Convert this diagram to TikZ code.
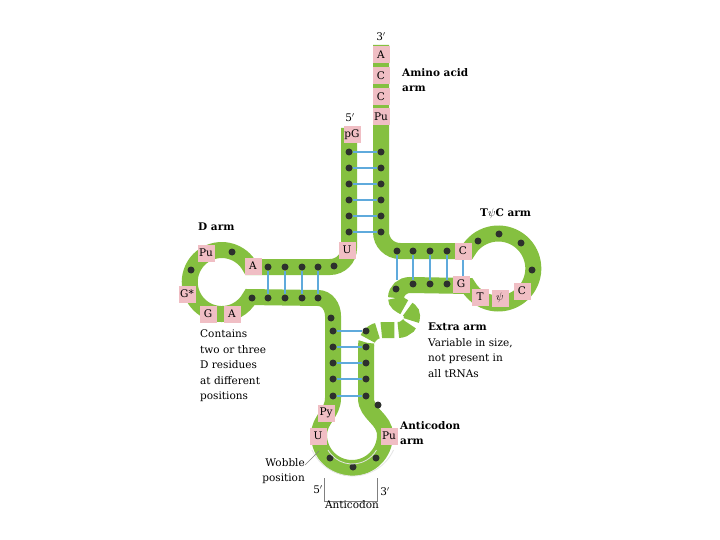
\documentclass[tikz,border=0pt]{standalone}
\usepackage{fontspec}
\setmainfont{DejaVu Serif}
\begin{document}
\begin{tikzpicture}[x=1pt,y=-1pt,
  every node/.style={font=\fontsize{10.5}{15}\selectfont},
  backbone/.style={draw=armgreen,line width=16pt},
  dot/.style={circle,fill=dotgray,inner sep=0pt,minimum size=7pt},
  base/.style={fill=basepink,inner sep=0pt,minimum width=17pt,minimum height=17pt,font=\fontsize{10.5}{13}\selectfont},
  rung/.style={draw=rungblue,line width=1.6pt},
  lbl/.style={align=left,anchor=north west,inner sep=0pt,font=\fontsize{10.5}{15.5}\selectfont},
  blbl/.style={lbl,font=\fontsize{10.5}{15.5}\selectfont\bfseries}]
\definecolor{armgreen}{RGB}{133,192,64}
\definecolor{dotgray}{RGB}{45,48,45}
\definecolor{basepink}{RGB}{240,190,196}
\definecolor{rungblue}{RGB}{95,170,220}
\useasboundingbox[fill=white] (0,0) rectangle (720,540);
% backbones
\draw[backbone] (381,45) -- (381,232) to[out=-90,in=180] (400,251) -- (468,251)
  arc[start angle=-150,end angle=150,radius=35] -- (410,285) to[out=180,in=90] (396,298);
\draw[backbone,dash pattern=on 13pt off 4pt] (396,298) to[out=-90,in=90] (412,316) to[out=-90,in=0] (398,330) -- (382,330) to[out=180,in=90] (366,346);
\draw[backbone] (349,128) -- (349,248) to[out=-90,in=0] (330,267) -- (250,267)
  arc[start angle=-28,end angle=-332,radius=32] -- (318,298) to[out=0,in=90] (333,316)
  -- (333,398) to[out=-90,in=90] (319,435) arc[start angle=-180,end angle=-360,radius=33]
  to[out=90,in=-90] (366,398) -- (366,345);
% acceptor stem dots & rungs
\foreach \y [count=\i] in {152,168,184,200,216,232}{
  \node[dot] (al\i) at (349,\y) {}; \node[dot] (ar\i) at (381,\y) {};
  \draw[rung] (al\i.east) -- (ar\i.west);}
% D stem
\foreach \x [count=\i] in {268,285,302,318}{
  \node[dot] (dt\i) at (\x,267) {}; \node[dot] (db\i) at (\x,298) {};
  \draw[rung] (dt\i.south) -- (db\i.north);}
\node[dot] (dt5) at (334,266) {};
\node[dot] (db0) at (252,298) {};
\node[dot] (dl1) at (232,252) {};
\node[dot] (dl2) at (191,270) {};
\node[dot] (db5) at (331,318) {};
% T stem
\foreach \x [count=\i] in {397,413,430,447}{
  \node[dot] (tt\i) at (\x,251) {};}
\foreach \x [count=\i] in {413,430,447}{
  \node[dot] (tb\i) at (\x,284) {};}
\node[dot] (tb0) at (396,289) {};
\draw[rung] (tt4.south) -- (tb3.north);
\draw[rung] (tt3.south) -- (tb2.north);
\draw[rung] (tt2.south) -- (tb1.north);
\draw[rung] (tt1.south) -- (397,280);
\draw[rung] (463,258) -- (463,277);
\node[dot] (tl1) at (478,241) {};
\node[dot] (tl2) at (499,234) {};
\node[dot] (tl3) at (521,243) {};
\node[dot] (tl4) at (532,270) {};
% anticodon stem
\foreach \y [count=\i] in {331,347,363,379,396}{
  \node[dot] (cl\i) at (333,\y) {}; \node[dot] (cr\i) at (366,\y) {};
  \draw[rung] (cl\i.east) -- (cr\i.west);}
\node[dot] (cr6) at (378,405) {};
\node[dot] (lp1) at (330,458) {};
\node[dot] (lp2) at (353,467) {};
\node[dot] (lp3) at (376,458) {};
\draw[white!80!gray,line width=0.8pt] (328,450) arc[start angle=-210,end angle=-330,radius=28];
\draw[white!80!gray,line width=0.8pt] (312,450) arc[start angle=-205,end angle=-335,radius=45];
% bases
\node[base] (b3A) at (381,55) {A};
\node[base] (b3C) at (381,76) {C};
\node[base] (b3C2) at (381,97) {C};
\node[base] (b3Pu) at (381,117) {Pu};
\node[base] (pG) at (352,135) {pG};
\node[base] (U1) at (347,250) {U};
\node[base] (Ad) at (253,266) {A};
\node[base] (Pud) at (206,253) {Pu};
\node[base] (Gs) at (187,294) {G*};
\node[base] (Gd) at (208,314) {G};
\node[base] (Ad2) at (232,314) {A};
\node[base] (Ct) at (463,251) {C};
\node[base] (Gt) at (461,284) {G};
\node[base] (Tt) at (480,297) {T};
\node[base] (Psi) at (500,298) {$\psi$};
\node[base] (Ct2) at (522,291) {C};
\node[base] (Py) at (326,413) {Py};
\node[base] (Ua) at (318,436) {U};
\node[base] (Pua) at (389,436) {Pu};
% labels
\node (t3) at (381,37) {3$'$};
\node (t5) at (350,118) {5$'$};
\node[blbl] (aa) at (402,68) {Amino acid\\arm};
\node[blbl] (tpc) at (480,209) {T$\psi$C arm};
\node[blbl] (darm) at (198,223) {D arm};
\node[lbl] (cont) at (200,330) {Contains\\two or three\\D residues\\at different\\positions};
\node[blbl] (ex) at (428,323) {Extra arm};
\node[lbl] (var) at (428,338) {Variable in size,\\not present in\\all tRNAs};
\node[blbl] (anti) at (400,421) {Anticodon\\arm};
\node[lbl,align=right,anchor=north east] (wob) at (305,458) {Wobble\\position};
\draw[gray,line width=0.6pt] (wob.north east)++(0,7) -- (319,451);
\node (a5) at (318,490) {5$'$};
\node (a3) at (385,492) {3$'$};
\draw[gray,line width=0.6pt] (324,478) -- (324,501) -- (377,501) -- (377,478);
\node (ac) at (352,505) {Anticodon};
\end{tikzpicture}
\end{document}
